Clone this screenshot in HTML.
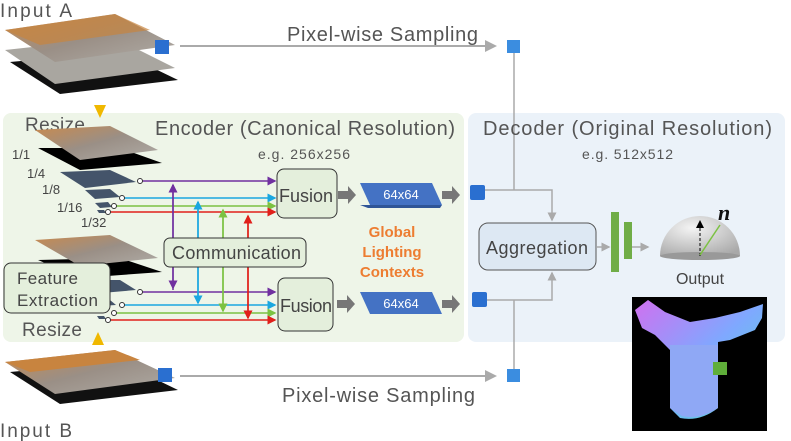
<!DOCTYPE html>
<html><head><meta charset="utf-8"><style>
body{margin:0;background:#fff;}
svg{display:block;font-family:"Liberation Sans","DejaVu Sans",sans-serif;}
</style></head><body>
<svg width="791" height="441" viewBox="0 0 791 441" xmlns="http://www.w3.org/2000/svg">
<defs>
<marker id="ap" markerWidth="6" markerHeight="6" refX="5" refY="3" orient="auto"><path d="M0,0L6,3L0,6z" fill="#7030a0"/></marker>
<marker id="ac" markerWidth="6" markerHeight="6" refX="5" refY="3" orient="auto"><path d="M0,0L6,3L0,6z" fill="#1aa7e0"/></marker>
<marker id="ag" markerWidth="6" markerHeight="6" refX="5" refY="3" orient="auto"><path d="M0,0L6,3L0,6z" fill="#7cc242"/></marker>
<marker id="ar" markerWidth="6" markerHeight="6" refX="5" refY="3" orient="auto"><path d="M0,0L6,3L0,6z" fill="#e0201b"/></marker>
<marker id="agr" markerWidth="6" markerHeight="6" refX="5" refY="3" orient="auto"><path d="M0,0L6,3L0,6z" fill="#aaa"/></marker>
<linearGradient id="img" x1="0" y1="0" x2="1" y2="1"><stop offset="0" stop-color="#c98a4e"/><stop offset="0.5" stop-color="#9a8f86"/><stop offset="1" stop-color="#b0aca6"/></linearGradient>
<linearGradient id="nm" x1="0" y1="0" x2="1" y2="1"><stop offset="0" stop-color="#d070f0"/><stop offset="0.5" stop-color="#7fa8ff"/><stop offset="1" stop-color="#50e0d0"/></linearGradient>
<radialGradient id="hs" cx="0.4" cy="0.3" r="0.8"><stop offset="0" stop-color="#f4f4f4"/><stop offset="1" stop-color="#a8a8a8"/></radialGradient>
</defs>
<rect x="3" y="113" width="461" height="229" rx="8" fill="#eef5e8"/>
<rect x="468" y="113" width="317" height="229" rx="8" fill="#ebf2f9"/>

<!-- Input A -->
<polygon points="10,62 120,52 178,80 60,94" fill="#111"/>
<polygon points="5,50 115,38 175,68 55,84" fill="#a9a6a0"/>
<polygon points="5,30 115,14 175,45 55,62" fill="url(#img)"/>
<polygon points="5,30 115,14 150,30 40,45" fill="#c8843f" opacity="0.7"/>
<rect x="155" y="40" width="14" height="14" fill="#2a6fd0"/>
<text x="0" y="17" font-size="19" fill="#555" textLength="72">Input A</text>
<!-- Input B -->
<polygon points="10,372 120,362 178,390 60,404" fill="#111"/>
<polygon points="5,362 115,350 175,378 55,394" fill="url(#img)"/>
<polygon points="5,362 115,350 140,360 30,372" fill="#c8843f"/>
<rect x="158" y="368" width="14" height="14" fill="#2a6fd0"/>
<text x="0" y="437" font-size="19" fill="#555" textLength="72">Input B</text>

<!-- sampling lines -->
<line x1="180" y1="46" x2="495" y2="46" stroke="#aaa" stroke-width="2" marker-end="url(#agr)"/>
<text x="287" y="41" font-size="20" fill="#555" textLength="191">Pixel-wise Sampling</text>
<line x1="180" y1="376" x2="495" y2="376" stroke="#aaa" stroke-width="2" marker-end="url(#agr)"/>
<text x="282" y="402" font-size="20" fill="#555" textLength="193">Pixel-wise Sampling</text>
<rect x="507" y="40" width="13" height="13" fill="#3b8de0"/>
<rect x="507" y="369" width="13" height="13" fill="#3b8de0"/>
<line x1="514" y1="53" x2="514" y2="190" stroke="#aaa" stroke-width="1.5"/>
<line x1="514" y1="300" x2="514" y2="369" stroke="#aaa" stroke-width="1.5"/>
<path d="M484,190H552V220" fill="none" stroke="#aaa" stroke-width="1.5" marker-end="url(#agr)"/>
<path d="M484,300H552V273" fill="none" stroke="#aaa" stroke-width="1.5" marker-end="url(#agr)"/>

<!-- Resize -->
<text x="25" y="131" font-size="19" fill="#555" textLength="60">Resize</text>
<polygon points="94,105 106,105 100,118" fill="#f0b800"/>
<text x="22" y="336" font-size="19" fill="#555" textLength="60">Resize</text>
<polygon points="92,345 104,345 98,332" fill="#f0b800"/>
<text x="155" y="135" font-size="20" fill="#555" textLength="300">Encoder (Canonical Resolution)</text>
<text x="258" y="159" font-size="14" fill="#555" textLength="92">e.g. 256x256</text>
<text x="483" y="135" font-size="20" fill="#555" textLength="289">Decoder (Original Resolution)</text>
<text x="582" y="159" font-size="14" fill="#555" textLength="91">e.g. 512x512</text>

<!-- top pyramid -->
<polygon points="38,148 120,148 162,163 80,170" fill="#000"/>
<polygon points="35,130 110,126 158,150 80,160" fill="url(#img)"/>
<polygon points="60,172 110,170 136,182 85,188" fill="#44546a"/>
<polygon points="85,190 110,189 120,197 95,199" fill="#44546a"/>
<polygon points="95,203 108,202 112,207 100,208" fill="#44546a"/>
<polygon points="97,210 104,210 106,213 99,213" fill="#44546a"/>
<text x="12" y="159" font-size="13" fill="#444">1/1</text>
<text x="27" y="178" font-size="13" fill="#444">1/4</text>
<text x="42" y="194" font-size="13" fill="#444">1/8</text>
<text x="57" y="212" font-size="13" fill="#444">1/16</text>
<text x="81" y="227" font-size="13" fill="#444">1/32</text>
<!-- bottom pyramid -->
<polygon points="38,260 120,258 162,272 80,278" fill="#000"/>
<polygon points="35,240 110,235 158,258 80,266" fill="url(#img)"/>
<polygon points="80,280 120,280 136,290 90,294" fill="#44546a"/>
<polygon points="95,300 110,300 116,305 100,306" fill="#44546a"/>
<polygon points="97,316 104,316 106,319 99,319" fill="#44546a"/>

<!-- colored lines -->
<g fill="none" stroke-width="1.5">
<line x1="140" y1="181" x2="275" y2="181" stroke="#7030a0" marker-end="url(#ap)"/>
<line x1="122" y1="198" x2="275" y2="198" stroke="#1aa7e0" marker-end="url(#ac)"/>
<line x1="114" y1="206" x2="275" y2="206" stroke="#7cc242" marker-end="url(#ag)"/>
<line x1="108" y1="212" x2="275" y2="212" stroke="#e0201b" marker-end="url(#ar)"/>
<line x1="140" y1="292" x2="275" y2="292" stroke="#7030a0" marker-end="url(#ap)"/>
<line x1="122" y1="305" x2="275" y2="305" stroke="#1aa7e0" marker-end="url(#ac)"/>
<line x1="114" y1="313" x2="275" y2="313" stroke="#7cc242" marker-end="url(#ag)"/>
<line x1="108" y1="320" x2="275" y2="320" stroke="#e0201b" marker-end="url(#ar)"/>
<line x1="173" y1="290" x2="173" y2="185" stroke="#7030a0" marker-end="url(#ap)"/>
<line x1="173" y1="185" x2="173" y2="288" stroke="#7030a0" marker-end="url(#ap)"/>
<line x1="198" y1="202" x2="198" y2="303" stroke="#1aa7e0" marker-end="url(#ac)"/>
<line x1="198" y1="303" x2="198" y2="202" stroke="#1aa7e0" marker-end="url(#ac)"/>
<line x1="223" y1="210" x2="223" y2="311" stroke="#7cc242" marker-end="url(#ag)"/>
<line x1="223" y1="311" x2="223" y2="210" stroke="#7cc242" marker-end="url(#ag)"/>
<line x1="248" y1="216" x2="248" y2="318" stroke="#e0201b" marker-end="url(#ar)"/>
<line x1="248" y1="318" x2="248" y2="216" stroke="#e0201b" marker-end="url(#ar)"/>
</g>
<g fill="#fff" stroke="#333" stroke-width="1">
<circle cx="140" cy="181" r="2.5"/><circle cx="122" cy="198" r="2.5"/><circle cx="114" cy="206" r="2.5"/><circle cx="108" cy="212" r="2.5"/>
<circle cx="140" cy="292" r="2.5"/><circle cx="122" cy="305" r="2.5"/><circle cx="114" cy="313" r="2.5"/><circle cx="108" cy="320" r="2.5"/>
</g>

<rect x="164" y="238" width="142" height="29" rx="6" fill="#e4efdc" stroke="#333"/>
<text x="172" y="259" font-size="18" fill="#444" textLength="129">Communication</text>
<rect x="4" y="263" width="106" height="50" rx="7" fill="#e4efdc" stroke="#333"/>
<text x="17" y="284" font-size="17" fill="#444" textLength="61">Feature</text>
<text x="17" y="306" font-size="17" fill="#444" textLength="81">Extraction</text>

<rect x="277" y="169" width="60" height="49" rx="7" fill="#e4efdc" stroke="#333"/>
<text x="279" y="202" font-size="18" fill="#444" textLength="54">Fusion</text>
<rect x="278" y="278" width="55" height="53" rx="7" fill="#e4efdc" stroke="#333"/>
<text x="280" y="312" font-size="18" fill="#444" textLength="52">Fusion</text>

<!-- gray arrows -->
<polygon points="338,191 348,191 348,186 356,195 348,204 348,199 338,199" fill="#777"/>
<polygon points="337,300 347,300 347,295 355,304 347,313 347,308 337,308" fill="#777"/>
<polygon points="442,191 452,191 452,186 460,195 452,204 452,199 442,199" fill="#777"/>
<polygon points="442,300 452,300 452,295 460,304 452,313 452,308 442,308" fill="#777"/>
<!-- 64x64 -->
<polygon points="360,183 432,183 442,205 370,205" fill="#4472c4"/>
<polygon points="360,205 370,205 442,205 440,208 368,208" fill="#2f5597"/>
<text x="401" y="199" font-size="13" fill="#fff" text-anchor="middle">64x64</text>
<polygon points="360,292 432,292 442,314 370,314" fill="#4472c4"/>
<text x="401" y="308" font-size="13" fill="#fff" text-anchor="middle">64x64</text>
<rect x="470" y="185" width="15" height="15" rx="2" fill="#2a6fd0"/>
<rect x="472" y="292" width="15" height="15" rx="2" fill="#2a6fd0"/>

<text x="392" y="237" font-size="15" font-weight="bold" fill="#ed7d31" text-anchor="middle">Global</text>
<text x="392" y="257" font-size="15" font-weight="bold" fill="#ed7d31" text-anchor="middle">Lighting</text>
<text x="392" y="277" font-size="15" font-weight="bold" fill="#ed7d31" text-anchor="middle">Contexts</text>

<rect x="479" y="223" width="117" height="47" rx="9" fill="#dde8f3" stroke="#555"/>
<text x="486" y="254" font-size="18" fill="#444" textLength="102">Aggregation</text>
<line x1="597" y1="247" x2="609" y2="247" stroke="#aaa" stroke-width="1.5" marker-end="url(#agr)"/>
<rect x="611" y="212" width="8" height="60" fill="#70ad47"/>
<rect x="624" y="222" width="8" height="37" fill="#70ad47"/>
<line x1="632" y1="247" x2="648" y2="247" stroke="#aaa" stroke-width="1.5" marker-end="url(#agr)"/>
<path d="M660,256A40,40 0 0 1 740,256Z" fill="url(#hs)"/>
<ellipse cx="700" cy="256" rx="40" ry="4" fill="#999"/>
<line x1="700" y1="256" x2="700" y2="225" stroke="#000" stroke-dasharray="3,2"/>
<polygon points="696,228 704,228 700,220" fill="#000"/>
<line x1="700" y1="255" x2="720" y2="225" stroke="#7cc242" stroke-width="1.5"/>
<text x="718" y="220" font-size="22" font-style="italic" font-weight="bold" font-family="Liberation Serif,serif" fill="#111">n</text>
<text x="700" y="284" font-size="16" fill="#444" text-anchor="middle">Output</text>

<rect x="632" y="297" width="135" height="134" fill="#000"/>
<path d="M635,310 L648,300 L665,312 L690,322 L715,318 L740,312 L763,304 L762,318 L755,330 L730,340 L718,342 L718,408 Q700,422 680,418 L670,408 L670,350 L655,335 L642,328 Z" fill="url(#nm)"/>
<path d="M670,345 L718,345 L718,408 Q700,420 682,416 L670,408 Z" fill="#8fa8f5"/>
<rect x="713" y="362" width="14" height="13" fill="#5fae3a"/>
</svg>
</body></html>
